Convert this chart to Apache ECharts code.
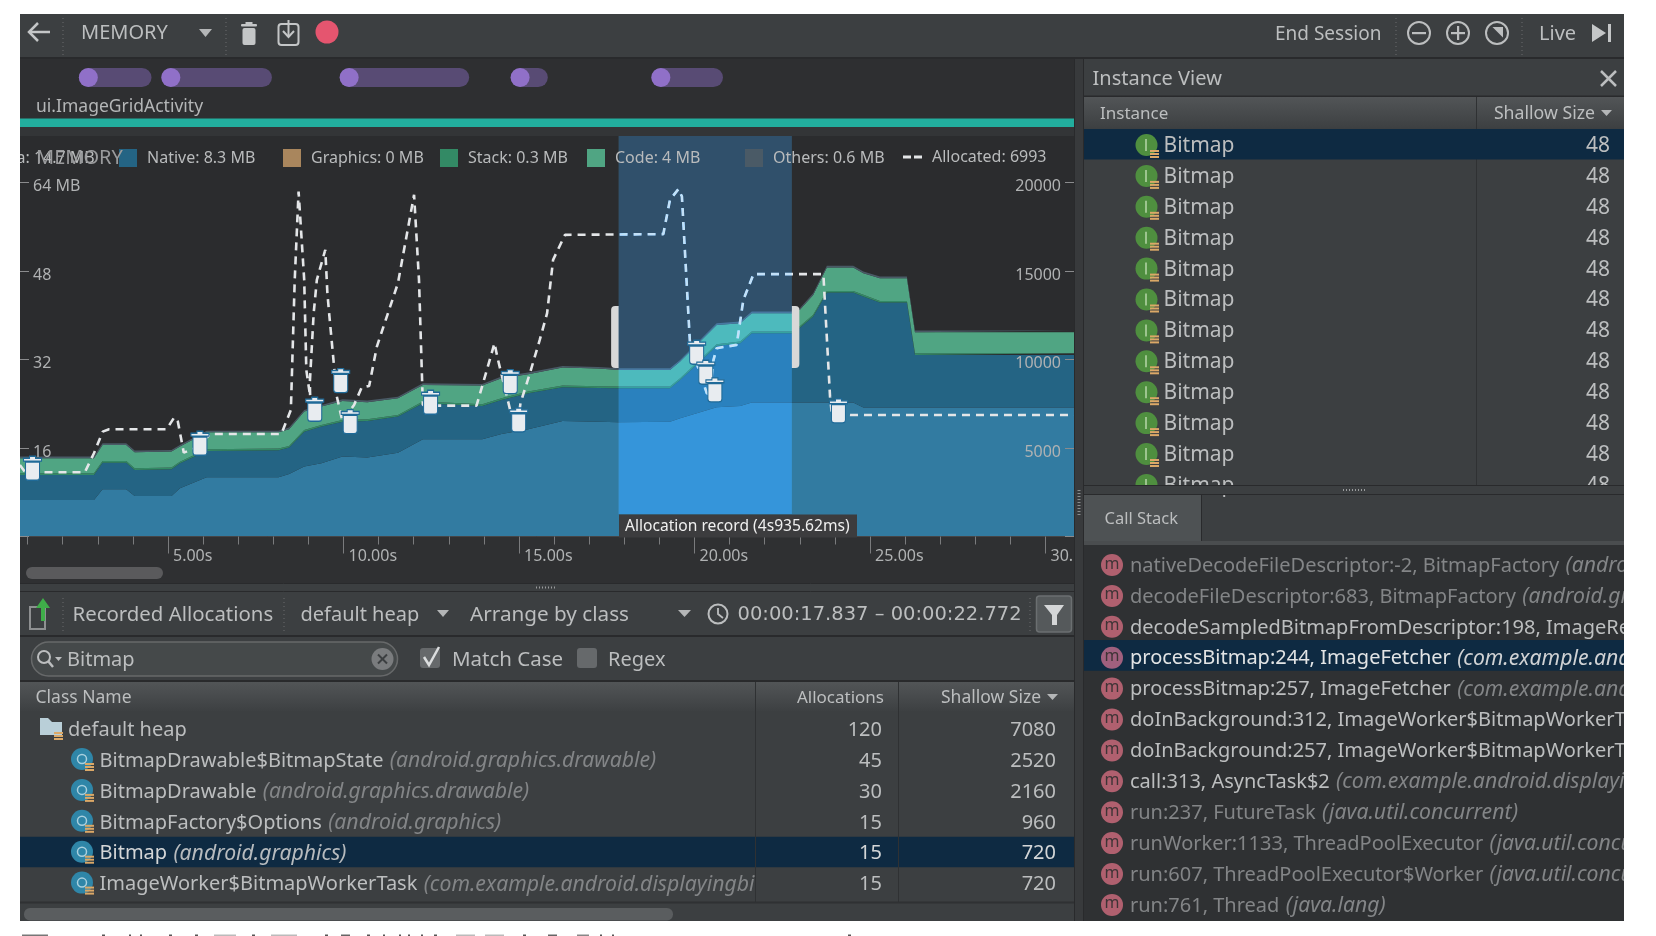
<!DOCTYPE html>
<html>
<head>
<meta charset="utf-8">
<title>Memory Profiler</title>
<style>html,body{margin:0;padding:0;background:#fff}#main{width:1656px;height:936px}</style>
<script src="https://cdn.jsdelivr.net/npm/echarts@6/dist/echarts.min.js"></script>
</head>
<body>
<div id="main"></div>
<script>
// memory stacks, MB per sample
const timeSec = [0.78,2.89,3.135,3.81,4.05,5.1,5.34,6.1,8.15,8.45,8.88,9.37,9.97,10.68,11.55,12.26,13.95,14.5,15.26,16.24,17.26,17.85,19.3,19.59,20.63,21.3,21.63,22.8,23,23.38,23.77,24.52,24.81,25.28,26.05,26.28,30.81];
const javaMb = [6.6,6.6,8.54,8.54,7.33,7.33,8.72,10.71,10.71,11.31,12.64,13.24,14.45,14.27,15.17,17.59,17.59,18.55,19.4,20.9,20.78,20.66,20.78,21.39,23.38,23.62,24.22,24.22,24.22,24.22,24.22,24.22,23.32,23.32,23.32,23.32,23.32];
const nativeMb = [4.53,4.53,4.82,4.82,4.71,4.83,4.52,4.77,4.89,4.77,6.33,6.64,6.33,6.63,6.52,6.51,6.03,6.15,6.51,6.1,6.1,6.16,6.04,6.94,11.1,11.34,12.55,12.55,13.52,15.58,19.91,19.91,20.09,19,19,9.53,9.53];
const graphicsMb = [0,0,0,0,0,0,0,0,0,0,0,0,0,0,0,0,0,0,0,0,0,0,0,0,0,0,0,0,0,0,0,0,0,0,0,0,0];
const stackMb = [0.3,0.3,0.3,0.3,0.3,0.3,0.3,0.3,0.3,0.3,0.3,0.3,0.3,0.3,0.3,0.3,0.3,0.3,0.3,0.3,0.3,0.3,0.3,0.3,0.3,0.3,0.3,0.3,0.3,0.3,0.3,0.3,0.3,0.3,0.3,0.3,0.3];
const codeMb = [2.72,2.72,2.9,2.9,2.9,2.9,2.72,3.07,2.95,3.02,3.33,3.32,3.45,3.08,3.01,3.02,3.38,3.63,3.14,3.26,3.2,3.02,3.02,3.02,3.5,3.32,3.32,3.32,2.96,3.6,4.23,4.23,3.92,4.11,4.11,3.8,3.8];
const othersMb = [0.3,0.3,0.3,0.3,0.3,0.3,0.3,0.3,0.3,0.3,0.3,0.3,0.3,0.3,0.3,0.3,0.3,0.3,0.3,0.3,0.3,0.3,0.3,0.3,0.3,0.3,0.3,0.3,0.3,0.3,0.3,0.3,0.3,0.3,0.3,0.3,0.3];

// allocated object count (right axis)
const allocTime = [0.78,0.92,1.52,2.63,2.89,3.14,3.32,4.96,5.18,5.28,5.45,5.77,6.21,8.23,8.5,8.61,8.72,8.88,8.94,9.05,9.04,9.15,9.24,9.48,9.54,9.59,9.81,9.97,10.3,10.52,10.73,10.95,11.55,12.01,12.15,12.26,12.7,13.79,14.22,14.3,14.39,14.77,14.99,15.04,15.31,15.59,15.8,15.97,16.31,19.11,19.3,19.54,19.64,19.87,20.06,20.35,20.44,20.54,20.63,21.2,21.39,21.68,23.67,23.86,23.91,24.43,30.81];
const allocCount = [4044,3667,3629,3629,4704,5929,6062,6062,6740,6495,4741,4987,5797,5797,7155,14508,19502,14508,9417,7909,8700,12622,14508,16204,13772,12622,7909,6495,7438,8437,8512,10737,14319,19315,14508,7438,7400,7400,10360,10926,10077,6966,6700,7532,9229,11114,12622,15639,17053,17092,19032,19637,19219,10927,9796,8100,8003,9983,10644,10831,13376,14830,14830,7907,6968,6872,6872];

// GC events
const gcTime = [1.14,5.91,9.18,9.92,10.19,12.48,14.75,14.99,20.06,20.32,20.58,24.1];
const gcCount = [3857,5270,7193,8813,6495,7588,8757,6589,10416,9285,8286,7100];

// activity events [start, end], seconds
const eventSpans = [[2.46,4.53],[4.81,7.96],[9.89,13.58],[14.76,15.82],[18.77,20.81]];
const selection = [[17.837,22.772]];

const ticksLeft = {64:'64 MB',48:'48',32:'32',16:'16'};
const legendLabels = {Java:'Java: 14.7 MB',Native:'Native: 8.3 MB',Graphics:'Graphics: 0 MB',Stack:'Stack: 0.3 MB',Code:'Code: 4 MB',Others:'Others: 0.6 MB',Allocated:'Allocated: 6993'};

const classRows = [
  ['BitmapDrawable$BitmapState','(android.graphics.drawable)',45,2520],
  ['BitmapDrawable','(android.graphics.drawable)',30,2160],
  ['BitmapFactory$Options','(android.graphics)',15,960],
  ['Bitmap','(android.graphics)',15,720],
  ['ImageWorker$BitmapWorkerTask','(com.example.android.displayingbi',15,720]
];
const heapRow = ['default heap',120,7080];
const instanceNames = ['Bitmap','Bitmap','Bitmap','Bitmap','Bitmap','Bitmap','Bitmap','Bitmap','Bitmap','Bitmap','Bitmap','Bitmap'];
const instanceSizes = [48,48,48,48,48,48,48,48,48,48,48,48];
const callFrames = [
  ['nativeDecodeFileDescriptor:-2, BitmapFactory','(android.graphics)'],
  ['decodeFileDescriptor:683, BitmapFactory','(android.graphics)'],
  ['decodeSampledBitmapFromDescriptor:198, ImageResizer',''],
  ['processBitmap:244, ImageFetcher','(com.example.android)'],
  ['processBitmap:257, ImageFetcher','(com.example.android)'],
  ['doInBackground:312, ImageWorker$BitmapWorkerTask',''],
  ['doInBackground:257, ImageWorker$BitmapWorkerTask',''],
  ['call:313, AsyncTask$2','(com.example.android.displayingbitmaps)'],
  ['run:237, FutureTask','(java.util.concurrent)'],
  ['runWorker:1133, ThreadPoolExecutor','(java.util.concurrent)'],
  ['run:607, ThreadPoolExecutor$Worker','(java.util.concurrent)'],
  ['run:761, Thread','(java.lang)']
];

const FONT = "'Noto Sans'";
const els = [];
function rect(x, y, w, h, fill, z, r) {
  els.push({type:'rect', silent:true, z:z||0, shape:{x, y, width:w, height:h, r:r||0}, style:{fill}});
}
function txt(x, y, text, size, fill, z, align) {
  els.push({type:'text', silent:true, z:z||0, x, y:y+1, style:{text, fill, font:size+'px '+FONT, align:align||'left', verticalAlign:'middle'}});
}
function rich(x, y, a, b, size, ca, cb, z) {
  els.push({type:'text', silent:true, z:z||0, x, y:y+1, style:{
    text:'{a|'+a+'}'+(b?' {b|'+b+'}':''), verticalAlign:'middle',
    rich:{a:{font:size+'px '+FONT, fill:ca}, b:{font:'italic '+(size+1.2)+'px '+FONT, fill:cb, padding:[0,0,0,3]}}
  }});
}
function circle(cx, cy, r, fill, stroke, lw, z) {
  els.push({type:'circle', silent:true, z:z||0, shape:{cx, cy, r}, style:{fill:fill||'none', stroke:stroke||'none', lineWidth:lw||1}});
}
function line(pts, stroke, lw, z, dash) {
  els.push({type:'polyline', silent:true, z:z||0, shape:{points:pts}, style:{stroke, lineWidth:lw||1, fill:'none', lineDash:dash||null}});
}
function poly(pts, fill, z) {
  els.push({type:'polygon', silent:true, z:z||0, shape:{points:pts}, style:{fill}});
}
function dotted(x, y0, y1, z) { line([[x,y0],[x,y1]], '#6a6c6e', 1, z, [1,3]); }
function headerBg(x, y, w, h, z) {
  els.push({type:'rect', silent:true, z:z||0, shape:{x, y, width:w, height:h}, style:{
    fill:new echarts.graphic.LinearGradient(0,0,0,1,[{offset:0,color:'#525557'},{offset:1,color:'#3d4042'}])}});
}
function stackIcon(x, y, z) {
  rect(x, y, 9, 2, '#dba867', z); rect(x, y+3, 9, 2, '#dba867', z); rect(x, y+6, 9, 2, '#dba867', z);
}

const BG = '#3c3f41', DARK = '#292a2c', SEL = '#0e2a42', T1 = '#bcbebf', T2 = '#838587';

// chart pane backgrounds, behind the series
rect(20, 14, 1604, 907, BG, -3);
rect(20, 59, 1054, 77, '#2e2f31', -2);
rect(20, 118.5, 1054, 8.5, '#22ae9e', -1);
rect(20, 127, 1054, 9, '#333537', -1);
rect(20, 136, 1054, 401, '#2b2c2e', -1);
rect(20, 537, 1054, 46, '#2f3032', -1);
rect(26, 567, 137, 12, '#5a5a5c', -1, 6);
txt(36, 106, 'ui.ImageGridActivity', 17.5, '#b4b6b7', -1);

// top toolbar
rect(20, 57, 1604, 2, DARK, 10);
line([[50,32],[29,32]], '#c4c6c7', 2.5, 10);
line([[38,23],[29,32],[38,41]], '#c4c6c7', 2.5, 10);
dotted(63, 18, 56, 10);
txt(81, 32, 'MEMORY', 20, T1, 10);
poly([[199,29],[212,29],[205.5,37]], '#b4b6b7', 10);
dotted(226, 18, 56, 10);
rect(241, 24, 16, 2.5, '#c4c6c7', 10, 1); rect(245.5, 22, 7, 2, '#c4c6c7', 10);
rect(242.5, 28, 13, 17, '#c4c6c7', 10, 2);
els.push({type:'rect', silent:true, z:10, shape:{x:278.5, y:24, width:20, height:21, r:3}, style:{fill:'none', stroke:'#c4c6c7', lineWidth:2}});
line([[288.5,20],[288.5,36]], '#c4c6c7', 2, 10);
line([[283,31],[288.5,37],[294,31]], '#c4c6c7', 2, 10);
circle(327, 32, 11.5, '#e5556f', null, 0, 10);
txt(1275, 34, 'End Session', 19, T1, 10);
dotted(1396, 18, 56, 10);
circle(1419, 33, 11, null, '#bcbebf', 2, 10); rect(1412, 32, 14, 2.2, '#bcbebf', 10);
circle(1458, 33, 11, null, '#bcbebf', 2, 10); rect(1451, 32, 14, 2.2, '#bcbebf', 10); rect(1457, 26, 2.2, 14, '#bcbebf', 10);
circle(1497, 33, 11, null, '#bcbebf', 2, 10); poly([[1491,27],[1503,27],[1503,39]], '#bcbebf', 10); line([[1491,27],[1503,39]], '#3c3f41', 2, 10);
dotted(1522, 18, 56, 10);
txt(1539, 33, 'Live', 20, T1, 10);
poly([[1592,24],[1606,33],[1592,42]], '#c4c6c7', 10); rect(1608, 24, 3, 18, '#c4c6c7', 10);

// overlay label of the selection
rect(619, 514.5, 238, 23, '#3c3c3e', 8);
txt(625, 525.5, 'Allocation record (4s935.62ms)', 15.6, '#f0f0f0', 8);
txt(36, 157, 'MEMORY', 20, '#9a9b9d', 8);

// splitter under the chart
rect(20, 583, 1054, 9, BG, 10);
line([[20,583.5],[1074,583.5]], DARK, 1, 10); line([[20,591.5],[1074,591.5]], DARK, 1, 10);
line([[536,587.5],[557,587.5]], '#9a9c9d', 2, 10, [1,2]);

// allocations toolbar
rect(20, 592, 1054, 329, BG, 10);
rect(20, 635, 1054, 2, DARK, 10);
rect(20, 680, 1054, 2, DARK, 10);
els.push({type:'rect', silent:true, z:10, shape:{x:30, y:607, width:15, height:22}, style:{fill:'none', stroke:'#8e9091', lineWidth:2}});
line([[43,621],[43,604]], '#3fae49', 4, 10); poly([[36,608],[43,598],[50,608]], '#3fae49', 10);
dotted(63, 598, 632, 10);
txt(72.5, 614, 'Recorded Allocations', 20.4, T1, 10);
dotted(284, 598, 632, 10);
txt(300.5, 614, 'default heap', 20, T1, 10);
poly([[437,610],[449,610],[443,617]], '#b4b6b7', 10);
txt(470, 614, 'Arrange by class', 20.7, T1, 10);
poly([[678,610],[691,610],[684.5,617]], '#b4b6b7', 10);
circle(718, 614, 9.5, null, '#bcbebf', 2, 10);
line([[718,608],[718,614],[723,618]], '#bcbebf', 1.8, 10);
els.push({type:'text', silent:true, z:10, x:737.5, y:615, style:{text:'00:00:17.837 – 00:00:22.772', fill:T1, font:"19.5px 'DejaVu Sans'", verticalAlign:'middle'}});
dotted(1030, 598, 632, 10);
els.push({type:'rect', silent:true, z:10, shape:{x:1036.5, y:596, width:35, height:36, r:3}, style:{fill:'#55595b', stroke:'#6b6f71', lineWidth:1.5}});
poly([[1044,605],[1064,605],[1057,615],[1057,625],[1052,625],[1052,615]], '#d4d6d7', 10);

// search row
els.push({type:'rect', silent:true, z:10, shape:{x:31.5, y:642, width:366, height:34, r:17}, style:{fill:'#45494a', stroke:'#67696a', lineWidth:1.5}});
circle(44, 657, 6, null, '#bcbebf', 2, 10); line([[48,661],[53,667]], '#bcbebf', 2.5, 10);
poly([[55,657],[62,657],[58.5,661]], '#bcbebf', 10);
txt(67, 659, 'Bitmap', 20, T1, 10);
circle(382.5, 659, 11, '#7a7c7e', null, 0, 10);
line([[378,654.5],[387,663.5]], '#3c3f41', 2, 10); line([[387,654.5],[378,663.5]], '#3c3f41', 2, 10);
rect(420, 648, 20, 20, '#66696b', 10, 3);
line([[424,657],[429,665],[439,647]], '#dcdedf', 2.5, 10);
txt(452, 659, 'Match Case', 20.5, T1, 10);
rect(577, 648, 20, 20, '#66696b', 10, 3);
txt(608, 659, 'Regex', 20, T1, 10);

// class table
headerBg(20, 682, 1054, 29, 10);
txt(35.5, 697, 'Class Name', 17.5, T1, 10);
txt(884, 697, 'Allocations', 17, T1, 10, 'right');
txt(1041, 697, 'Shallow Size', 17.5, T1, 10, 'right');
poly([[1047,694],[1058,694],[1052.5,700]], '#b4b6b7', 10);
rect(20, 836.7, 1054, 30.6, SEL, 10);
rect(755, 682, 1, 220, '#2f3133', 10);
rect(898, 682, 1, 220, '#2f3133', 10);
rect(20, 901.5, 1054, 2, '#2f3133', 10);
rect(24, 908, 649, 12.5, '#5a5d5f', 10, 6);
poly([[40,718],[40,735],[62,735],[62,722],[52,722],[48,718]], '#b9cfd8', 10);
stackIcon(54, 732, 10);
rich(68, 729, heapRow[0], '', 20, T1, T2, 10);
txt(882, 729, String(heapRow[1]), 20, T1, 10, 'right');
txt(1056, 729, String(heapRow[2]), 20, T1, 10, 'right');
classRows.forEach(function (row, i) {
  const cy = 760 + i * 30.9, on = i === 3;
  circle(82, cy - 1, 11, '#2f86a8', null, 0, 10);
  circle(82, cy - 1, 4.5, null, '#a9d0de', 1.5, 10);
  stackIcon(85, cy + 3, 10);
  rich(99.5, cy, row[0], row[1], 20, on ? '#d4d6d7' : T1, on ? '#b7bbbe' : T2, 10);
  txt(882, cy, String(row[2]), 20, on ? '#d4d6d7' : T1, 10, 'right');
  txt(1056, cy, String(row[3]), 20, on ? '#d4d6d7' : T1, 10, 'right');
});

// right pane
rect(1074, 59, 10, 862, '#383a3c', 10);
rect(1074, 59, 1, 862, DARK, 10); rect(1083, 59, 1, 862, DARK, 10);
line([[1079,490],[1079,516]], '#8a8c8d', 3, 10, [1,2]);
rect(1084, 59, 540, 862, BG, 10);
txt(1092.5, 78, 'Instance View', 20, T1, 10);
line([[1601,71],[1616,86]], '#bcbebf', 2.5, 10); line([[1616,71],[1601,86]], '#bcbebf', 2.5, 10);
rect(1084, 95.5, 540, 1.5, DARK, 10);
headerBg(1084, 97, 540, 31, 10);
txt(1100, 113, 'Instance', 17, T1, 10);
txt(1595, 113, 'Shallow Size', 17.7, T1, 10, 'right');
poly([[1601,110],[1612,110],[1606.5,116]], '#b4b6b7', 10);
rect(1476, 97, 1, 388, '#2f3133', 10);
rect(1084, 129, 540, 30.5, SEL, 10);
instanceNames.forEach(function (name, i) {
  const cy = 145 + i * 30.9;
  circle(1146.5, cy, 11, '#4f8f3f', null, 0, 10);
  rect(1145, cy - 6, 2, 12, '#9cc48e', 10);
  stackIcon(1150, cy + 5, 10);
  txt(1163.5, cy, name, 21, T1, 10);
  txt(1610, cy, String(instanceSizes[i]), 21, T1, 10, 'right');
});
rect(1084, 485, 540, 10, BG, 10);
line([[1084,485.5],[1624,485.5]], DARK, 1, 10); line([[1084,494.5],[1624,494.5]], DARK, 1, 10);
line([[1343,490],[1366,490]], '#9a9c9d', 2, 10, [1,2]);
rect(1084, 495, 117, 46, '#4e5254', 10);
rect(1201, 495, 1, 46, DARK, 10);
txt(1104.5, 518, 'Call Stack', 16.5, T1, 10);
rect(1084, 541, 540, 4, '#4a4d4f', 10);
rect(1084, 545, 540, 376, '#2f3133', 10);
rect(1084, 640, 540, 30.8, SEL, 10);
callFrames.forEach(function (f, i) {
  const cy = 565 + i * 30.9;
  const bright = i >= 2 && i <= 7;
  circle(1112, cy, 11, i === 3 ? '#a0607e' : '#b0606f', null, 0, 10);
  txt(1112, cy - 2, 'm', 16, '#3e3436', 10, 'center');
  rich(1130, cy, f[0], f[1], 20, i === 3 ? '#e2e4e5' : (bright ? T1 : T2), i === 3 ? '#d0d2d4' : T2, 10);
});

// page around the window
rect(0, 0, 20, 936, '#fff', 12);
rect(1624, 0, 32, 936, '#fff', 12);
rect(0, 0, 1656, 14, '#fff', 12);
rect(0, 921, 1656, 15, '#fff', 12);
// the caption below the screenshot is cut by the page edge, only glyph tops remain
[[22,26,'#777'],[102,3,'#555'],[129,2,'#555'],[140,2,'#555'],[169,3,'#555'],[195,3,'#555'],[214,22,'#bbb'],[252,3,'#555'],[271,26,'#bbb'],[325,3,'#555'],[341,9,'#666'],[367,3,'#555'],[383,2,'#555'],[399,2,'#555'],[408,2,'#555'],[421,2,'#555'],[434,3,'#555'],[456,19,'#bbb'],[485,19,'#bbb'],[523,3,'#555'],[548,9,'#666'],[577,12,'#888'],[600,2,'#555'],[612,2,'#555'],[848,3,'#555']].forEach(function (m) {
  rect(m[0], 934.5, m[1], 1.5, m[2], 13);
});

const chart = echarts.init(document.getElementById('main'));

// y comes first in the tuple so the stack runs on the value dimension
function areaSeries(name, values, color) {
  return {
    name, type:'line', stack:'mem', z:2, symbol:'none', showSymbol:false,
    encode:{x:1, y:0},
    lineStyle:{width:0}, itemStyle:{color}, areaStyle:{color, opacity:1},
    data:timeSec.map(function (t, i) { return [values[i], t]; })
  };
}
function legendAt(name, left) {
  return {
    data:[name], left, top:149, z:6, icon: name === 'Allocated' ? 'path://M0 0H8V3H0ZM11 0H19V3H11Z' : 'rect',
    itemWidth: name === 'Allocated' ? 19 : 18, itemHeight: name === 'Allocated' ? 4 : 18, itemGap:10, padding:0,
    selectedMode:false, formatter:function (n) { return legendLabels[n]; },
    textStyle:{color:'#b9bbbc', fontSize:16, fontFamily:FONT, padding:[0,0,0,5]}
  };
}
// tick labels sit a little under their tick
const tickLabelRich = {t:{color:'#b0b2b3', fontSize:16, fontFamily:FONT, padding:[8,0,0,0]}};

chart.setOption({
  animation:false,
  backgroundColor:'#fff',
  graphic:{elements:els},
  legend:[legendAt('Java',-33), legendAt('Native',119), legendAt('Graphics',283), legendAt('Stack',440), legendAt('Code',587), legendAt('Others',745), legendAt('Allocated',903)],
  grid:{left:-7.5, width:1081.5, top:182.7, height:353.8, outerBoundsMode:'none'},
  xAxis:{
    type:'value', min:0, max:30.81, interval:5, z:5,
    axisLine:{lineStyle:{color:'#454547'}},
    axisTick:{length:17, lineStyle:{color:'#7a7b7d'}},
    minorTick:{show:true, splitNumber:5, length:8, lineStyle:{color:'#7a7b7d'}},
    splitLine:{show:false},
    axisLabel:{margin:12, align:'left', padding:[0,0,0,5], color:'#b0b2b3', fontSize:16, fontFamily:FONT, showMinLabel:false, showMaxLabel:false,
      formatter:function (v) { return v === 0 ? '' : v.toFixed(2) + 's'; }}
  },
  yAxis:[{
    type:'value', min:0, max:64, interval:16, position:'left', offset:-27.5, z:5,
    axisLine:{show:false}, splitLine:{show:false},
    axisTick:{show:true, inside:true, length:9, lineStyle:{color:'#8a8b8d'}},
    axisLabel:{inside:true, margin:13, rich:tickLabelRich, formatter:function (v) { return ticksLeft[v] ? '{t|' + ticksLeft[v] + '}' : ''; }}
  },{
    type:'value', min:0, max:20000, interval:5000, position:'right', z:5,
    axisLine:{show:false}, splitLine:{show:false},
    axisTick:{show:true, inside:true, length:9, lineStyle:{color:'#8a8b8d'}},
    axisLabel:{inside:true, margin:13, rich:tickLabelRich, formatter:function (v) { return v === 0 ? '' : '{t|' + v + '}'; }}
  }],
  series:[
    areaSeries('Java', javaMb, '#327ba1'),
    areaSeries('Native', nativeMb, '#246484'),
    areaSeries('Graphics', graphicsMb, '#a9865d'),
    areaSeries('Stack', stackMb, '#338a65'),
    areaSeries('Code', codeMb, '#50a583'),
    areaSeries('Others', othersMb, '#4a5a66'),
    {
      name:'Allocated', type:'line', yAxisIndex:1, z:3, symbol:'none', showSymbol:false,
      itemStyle:{color:'#e4e6e8'},
      lineStyle:{color:'#e4e6e8', width:2.6, type:[8,6]},
      data:allocTime.map(function (t, i) { return [t, allocCount[i]]; })
    },
    {
      // activity pills above the chart
      name:'events', type:'custom', z:3, clip:false,
      encode:{x:[0,1]},
      data:eventSpans,
      renderItem:function (params, api) {
        const x0 = api.coord([api.value(0), 0])[0], x1 = api.coord([api.value(1), 0])[0];
        return {type:'group', silent:true, children:[
          {type:'rect', shape:{x:x0, y:68, width:x1 - x0, height:19, r:9.5}, style:{fill:'#584b74'}},
          {type:'circle', shape:{cx:x0 + 9.5, cy:77.5, r:9.5}, style:{fill:'#9070c8'}}
        ]};
      }
    },
    {
      // grab handles of the range selection
      name:'selection', type:'custom', z:4, clip:false,
      encode:{x:[0,1]},
      data:selection,
      renderItem:function (params, api) {
        const x0 = api.coord([api.value(0), 0])[0], x1 = api.coord([api.value(1), 0])[0];
        return {type:'group', silent:true, children:[
          {type:'rect', shape:{x:x0 - 7.5, y:306, width:7.5, height:62, r:[4,0,0,4]}, style:{fill:'#d8d8d8'}},
          {type:'rect', shape:{x:x1, y:306, width:7.5, height:62, r:[0,4,4,0]}, style:{fill:'#d8d8d8'}}
        ]};
      }
    },
    {
      name:'GC', type:'scatter', yAxisIndex:1, z:5,
      symbol:'path://M7 0H13V2H19V5H1V2H7ZM3 6H17V22Q17 25 14 25H6Q3 25 3 22Z',
      symbolSize:[18,24],
      itemStyle:{color:'#e8ecf0', borderColor:'#1f6a98', borderWidth:1.2, opacity:1},
      data:gcTime.map(function (t, i) { return [t, gcCount[i]]; })
    }
  ]
});

// selection band: add blue, then tint so the dashed line goes pale blue under it
const bandX0 = chart.convertToPixel({xAxisIndex:0}, selection[0][0]);
const bandX1 = chart.convertToPixel({xAxisIndex:0}, selection[0][1]);
const bandShape = {x:bandX0, y:136, width:bandX1 - bandX0, height:378};
els.push({type:'rect', silent:true, z:4, shape:bandShape, style:{fill:'rgb(16,47,64)', blend:'lighter'}});
els.push({type:'rect', silent:true, z:4, shape:bandShape, style:{fill:'rgb(204,224,247)', blend:'multiply'}});
chart.setOption({graphic:{elements:els}}, {replaceMerge:['graphic']});
</script>
</body>
</html>
